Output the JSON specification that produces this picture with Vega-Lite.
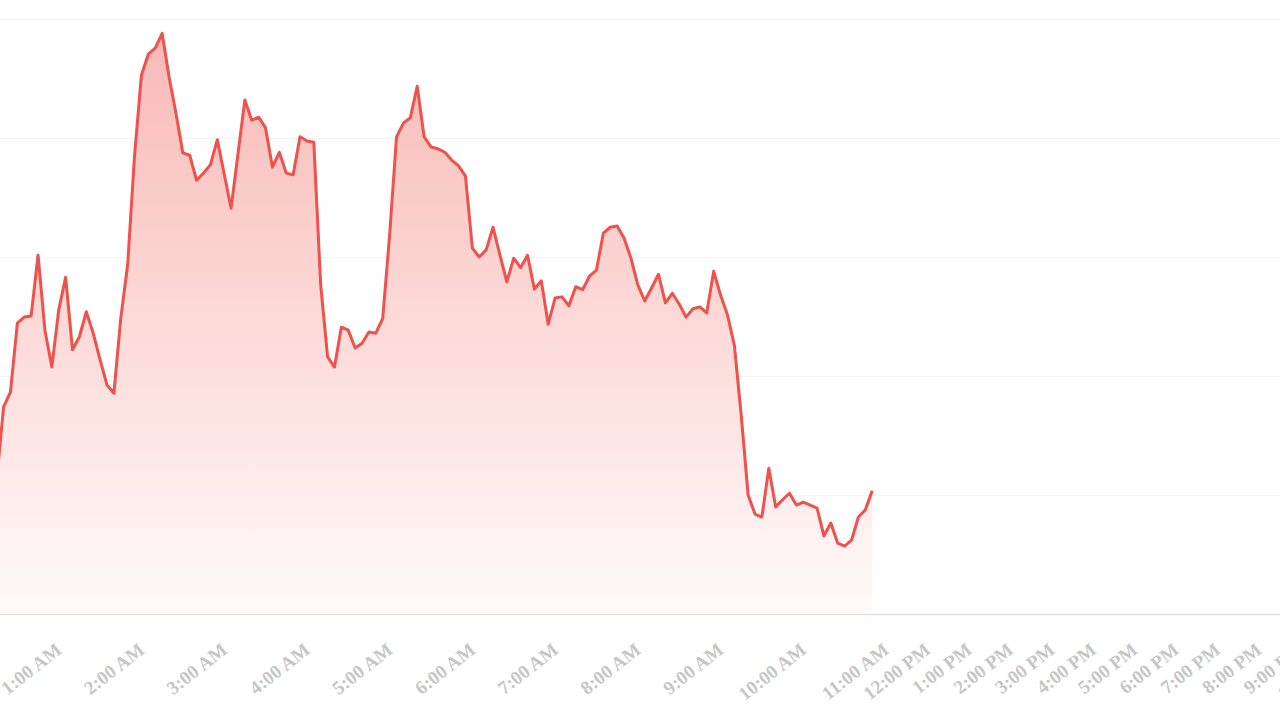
{
  "$schema": "https://vega.github.io/schema/vega-lite/v6.json",
  "width": 1280,
  "height": 595,
  "autosize": "none",
  "padding": {"left": 0, "top": 19, "right": 0, "bottom": 106},
  "background": "white",
  "data": {
    "values": [
      {"minute": 15, "value": 22.5},
      {"minute": 20, "value": 34.8},
      {"minute": 25, "value": 37.3},
      {"minute": 30, "value": 48.9},
      {"minute": 35, "value": 49.9},
      {"minute": 40, "value": 50.1},
      {"minute": 45, "value": 60.3},
      {"minute": 50, "value": 47.7},
      {"minute": 55, "value": 41.5},
      {"minute": 60, "value": 51.1},
      {"minute": 65, "value": 56.6},
      {"minute": 70, "value": 44.4},
      {"minute": 75, "value": 46.6},
      {"minute": 80, "value": 50.8},
      {"minute": 85, "value": 47.2},
      {"minute": 90, "value": 42.7},
      {"minute": 95, "value": 38.5},
      {"minute": 100, "value": 37.1},
      {"minute": 105, "value": 49.7},
      {"minute": 110, "value": 58.7},
      {"minute": 115, "value": 77.1},
      {"minute": 120, "value": 90.6},
      {"minute": 125, "value": 94.1},
      {"minute": 130, "value": 95.1},
      {"minute": 135, "value": 97.6},
      {"minute": 140, "value": 90.3},
      {"minute": 145, "value": 84.2},
      {"minute": 150, "value": 77.5},
      {"minute": 155, "value": 77.1},
      {"minute": 160, "value": 72.9},
      {"minute": 165, "value": 74.1},
      {"minute": 170, "value": 75.5},
      {"minute": 175, "value": 79.7},
      {"minute": 185, "value": 68.2},
      {"minute": 195, "value": 86.4},
      {"minute": 200, "value": 83.0},
      {"minute": 205, "value": 83.5},
      {"minute": 210, "value": 81.7},
      {"minute": 215, "value": 75.1},
      {"minute": 220, "value": 77.6},
      {"minute": 225, "value": 74.1},
      {"minute": 230, "value": 73.8},
      {"minute": 235, "value": 80.2},
      {"minute": 240, "value": 79.5},
      {"minute": 245, "value": 79.3},
      {"minute": 250, "value": 55.3},
      {"minute": 255, "value": 43.2},
      {"minute": 260, "value": 41.5},
      {"minute": 265, "value": 48.2},
      {"minute": 270, "value": 47.7},
      {"minute": 275, "value": 44.7},
      {"minute": 280, "value": 45.5},
      {"minute": 285, "value": 47.4},
      {"minute": 290, "value": 47.2},
      {"minute": 295, "value": 49.7},
      {"minute": 300, "value": 63.7},
      {"minute": 305, "value": 80.2},
      {"minute": 310, "value": 82.5},
      {"minute": 315, "value": 83.4},
      {"minute": 320, "value": 88.7},
      {"minute": 325, "value": 80.2},
      {"minute": 330, "value": 78.5},
      {"minute": 335, "value": 78.2},
      {"minute": 340, "value": 77.6},
      {"minute": 345, "value": 76.3},
      {"minute": 350, "value": 75.3},
      {"minute": 355, "value": 73.6},
      {"minute": 360, "value": 61.5},
      {"minute": 365, "value": 60.0},
      {"minute": 370, "value": 61.2},
      {"minute": 375, "value": 65.0},
      {"minute": 380, "value": 60.3},
      {"minute": 385, "value": 55.8},
      {"minute": 390, "value": 59.8},
      {"minute": 395, "value": 58.2},
      {"minute": 400, "value": 60.3},
      {"minute": 405, "value": 54.6},
      {"minute": 410, "value": 56.0},
      {"minute": 415, "value": 48.7},
      {"minute": 420, "value": 53.1},
      {"minute": 425, "value": 53.3},
      {"minute": 430, "value": 51.8},
      {"minute": 435, "value": 55.0},
      {"minute": 440, "value": 54.5},
      {"minute": 445, "value": 56.8},
      {"minute": 450, "value": 57.8},
      {"minute": 455, "value": 64.0},
      {"minute": 460, "value": 65.0},
      {"minute": 465, "value": 65.2},
      {"minute": 470, "value": 63.2},
      {"minute": 475, "value": 59.8},
      {"minute": 480, "value": 55.3},
      {"minute": 485, "value": 52.6},
      {"minute": 490, "value": 54.8},
      {"minute": 495, "value": 57.1},
      {"minute": 500, "value": 52.3},
      {"minute": 505, "value": 53.9},
      {"minute": 510, "value": 52.1},
      {"minute": 515, "value": 49.9},
      {"minute": 520, "value": 51.3},
      {"minute": 525, "value": 51.6},
      {"minute": 530, "value": 50.6},
      {"minute": 535, "value": 57.6},
      {"minute": 540, "value": 53.6},
      {"minute": 545, "value": 50.3},
      {"minute": 550, "value": 45.2},
      {"minute": 555, "value": 33.4},
      {"minute": 560, "value": 20.0},
      {"minute": 565, "value": 16.8},
      {"minute": 570, "value": 16.3},
      {"minute": 575, "value": 24.5},
      {"minute": 580, "value": 18.0},
      {"minute": 585, "value": 19.2},
      {"minute": 590, "value": 20.3},
      {"minute": 595, "value": 18.3},
      {"minute": 600, "value": 18.8},
      {"minute": 605, "value": 18.3},
      {"minute": 610, "value": 17.8},
      {"minute": 615, "value": 13.1},
      {"minute": 620, "value": 15.3},
      {"minute": 625, "value": 11.9},
      {"minute": 630, "value": 11.4},
      {"minute": 635, "value": 12.4},
      {"minute": 640, "value": 16.3},
      {"minute": 645, "value": 17.5},
      {"minute": 650, "value": 20.7}
    ]
  },
  "encoding": {
    "x": {
      "field": "minute",
      "type": "quantitative",
      "scale": {"domain": [0, 660, 1380], "range": [-24, 886, 1383], "nice": false, "zero": false},
      "axis": {
        "title": null,
        "values": [60, 120, 180, 240, 300, 360, 420, 480, 540, 600, 660, 720, 780, 840, 900, 960, 1020, 1080, 1140, 1200, 1260, 1320],
        "labelExpr": "(floor(datum.value / 60) % 12 == 0 ? 12 : floor(datum.value / 60) % 12) + ':00 ' + (datum.value < 720 ? 'AM' : 'PM')",
        "labelOverlap": false,
        "labelBound": false,
        "labelFlush": false,
        "labelAngle": -38,
        "labelAlign": "right",
        "labelBaseline": "middle",
        "labelPadding": 33,
        "labelFont": "Liberation Serif",
        "labelFontWeight": "bold",
        "labelFontSize": 19,
        "labelColor": "#c6c6c6",
        "ticks": false,
        "grid": false,
        "domainColor": "#e3e3e3",
        "domainWidth": 1.5
      }
    },
    "y": {
      "field": "value",
      "type": "quantitative",
      "scale": {"domain": [0, 100], "nice": false},
      "axis": {
        "title": null,
        "values": [0, 20, 40, 60, 80, 100],
        "labels": false,
        "ticks": false,
        "domain": false,
        "grid": true,
        "gridColor": "#f3f3f3",
        "gridWidth": 1
      }
    }
  },
  "layer": [
    {
      "mark": {
        "type": "area",
        "clip": true,
        "color": {
          "gradient": "linear",
          "x1": 0, "y1": 0, "x2": 0, "y2": 1,
          "stops": [
            {"offset": 0, "color": "#f8b9b6"},
            {"offset": 0.5, "color": "#fcdad8"},
            {"offset": 1, "color": "#fffafa"}
          ]
        }
      }
    },
    {
      "mark": {"type": "line", "clip": true, "color": "#ef524c", "strokeWidth": 3, "strokeJoin": "round"}
    }
  ],
  "config": {"view": {"stroke": null}}
}
